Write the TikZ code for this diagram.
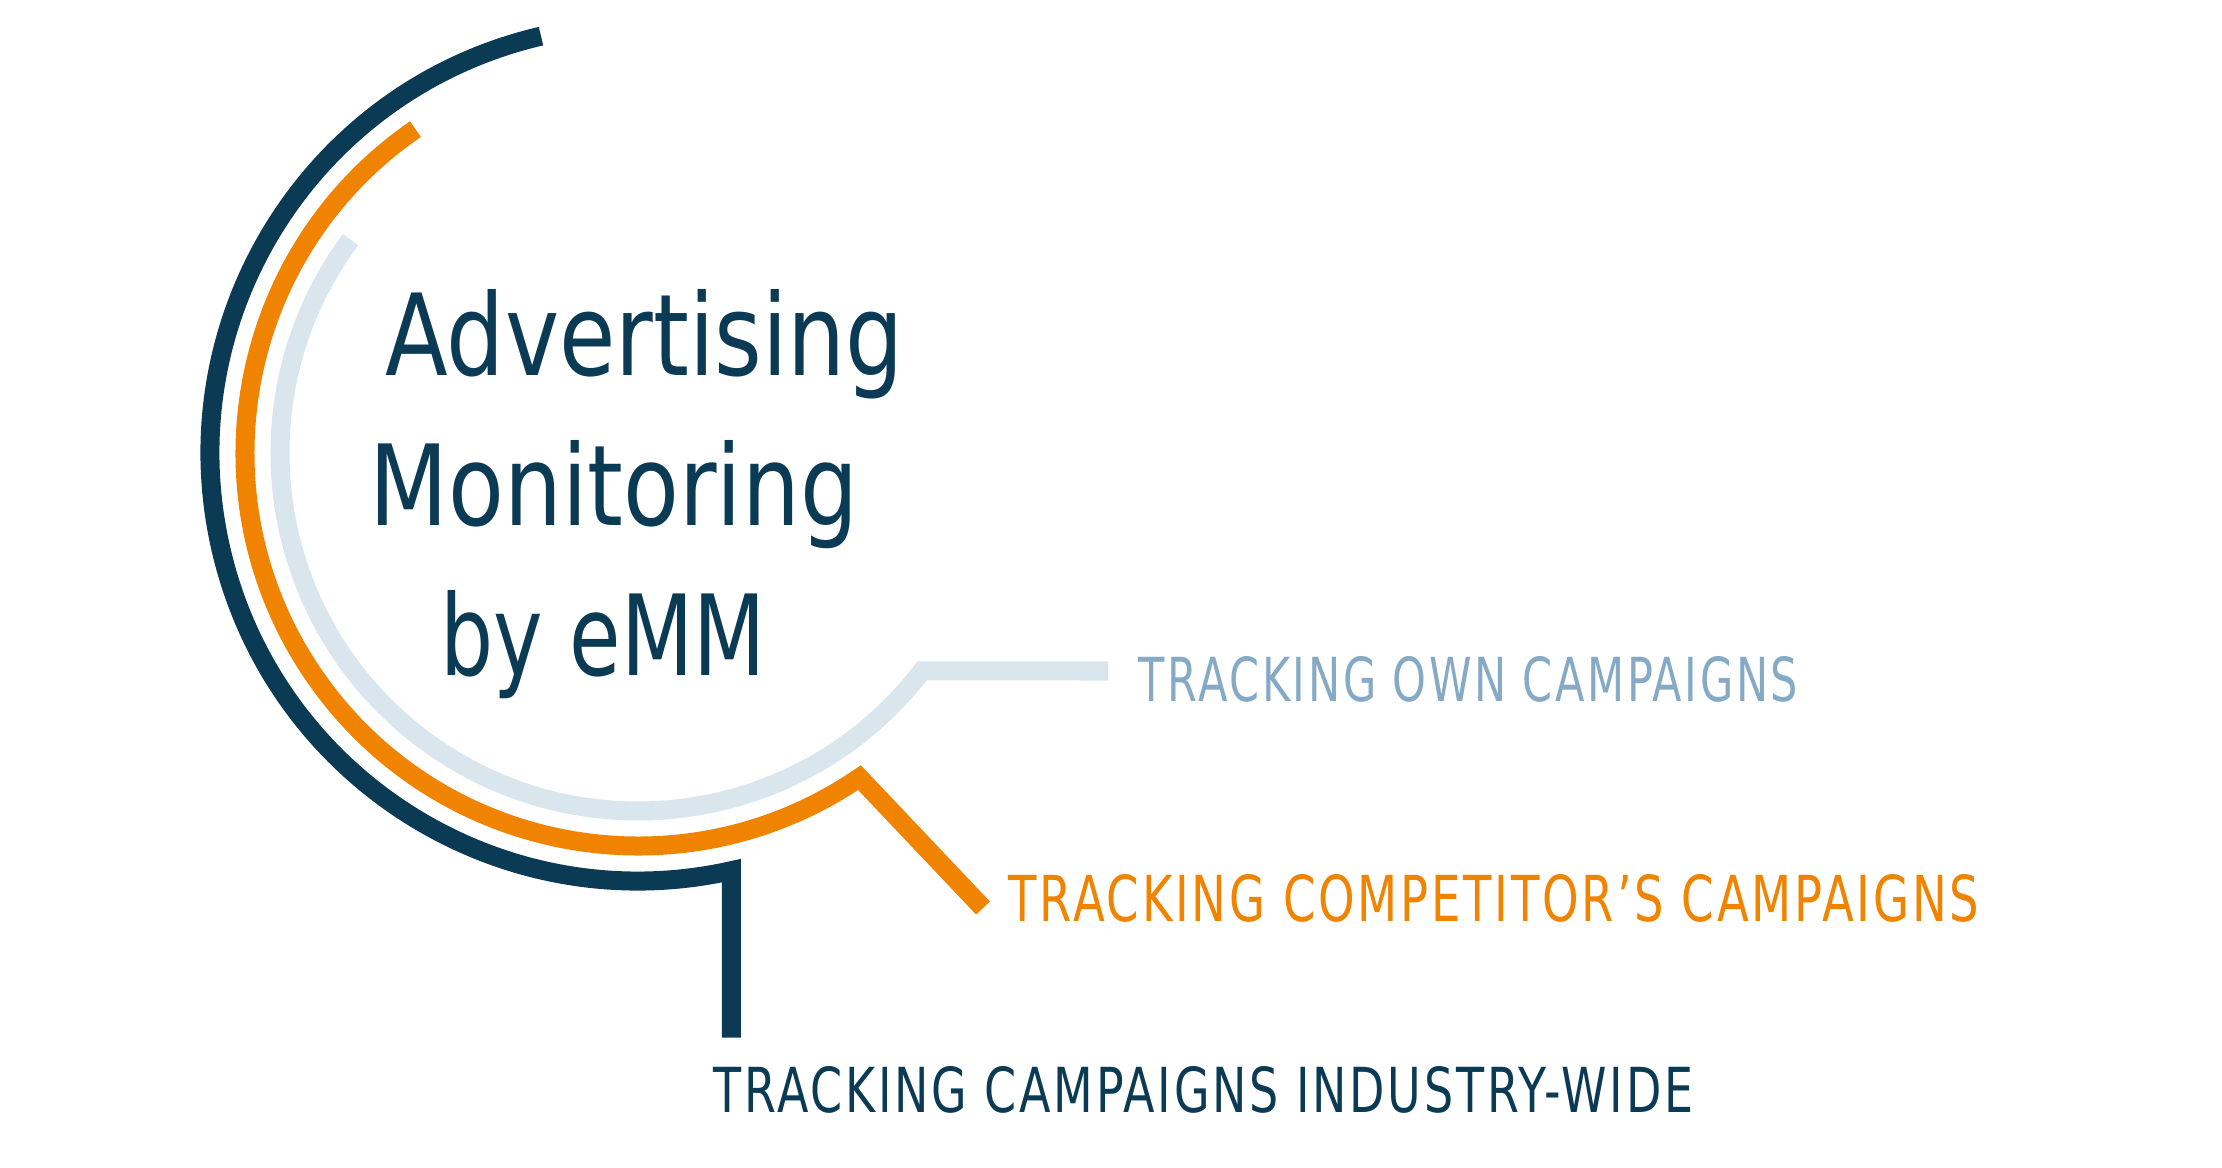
\documentclass[tikz,border=0pt]{standalone}
\usepackage{fontspec}
\setmainfont{DejaVu Sans}
\newfontfamily\labelfont[LetterSpace=6]{DejaVu Sans}
\definecolor{navy}{HTML}{0B3A55}
\definecolor{emmorange}{HTML}{F08300}
\definecolor{paleblue}{HTML}{DAE6ED}
\definecolor{steel}{HTML}{86AAC6}
\begin{document}
\begin{tikzpicture}[x=0.01cm,y=-0.01cm,
  ring/.style={line width=0.19cm, line cap=butt, line join=miter},
  titletext/.style={anchor=base west, inner sep=0pt, text=navy},
  labeltext/.style={anchor=base west, inner sep=0pt}]
\useasboundingbox (0,0) rectangle (2222,1167);
\coordinate (c) at (638,453);
% outer dark ring
\draw[ring, navy] (c) ++(256.9:428) arc[start angle=256.9, end angle=77.4, radius=428] coordinate (darkbend) -- ++(0,167) coordinate (darkend);
% orange ring
\draw[ring, emmorange] (c) ++(235.5:393) arc[start angle=235.5, end angle=55.7, radius=393] coordinate (orangebend) -- (983,908) coordinate (orangeend);
% pale ring
\draw[ring, paleblue] (c) ++(216.6:358) arc[start angle=216.6, end angle=37.5, radius=358] coordinate (palebend) -- (1108,671) coordinate (paleend);
% title
\node[titletext] (t1) at (385,376) {\resizebox{5.18cm}{0.86cm}{Advertising}};
\node[titletext] (t2) at (369,525) {\resizebox{4.88cm}{0.85cm}{Monitoring}};
\node[titletext] (t3) at (440,675) {\resizebox{3.25cm}{0.85cm}{by eMM}};
% labels
\node[labeltext, text=steel] (own) at (1138,701) {\resizebox{6.59cm}{0.45cm}{\labelfont TRACKING OWN CAMPAIGNS}};
\node[labeltext, text=emmorange] (comp) at (1008,921) {\resizebox{9.70cm}{0.47cm}{\labelfont TRACKING COMPETITOR’S CAMPAIGNS}};
\node[labeltext, text=navy] (ind) at (713,1112) {\resizebox{9.79cm}{0.46cm}{\labelfont TRACKING CAMPAIGNS INDUSTRY-WIDE}};
\end{tikzpicture}
\end{document}
